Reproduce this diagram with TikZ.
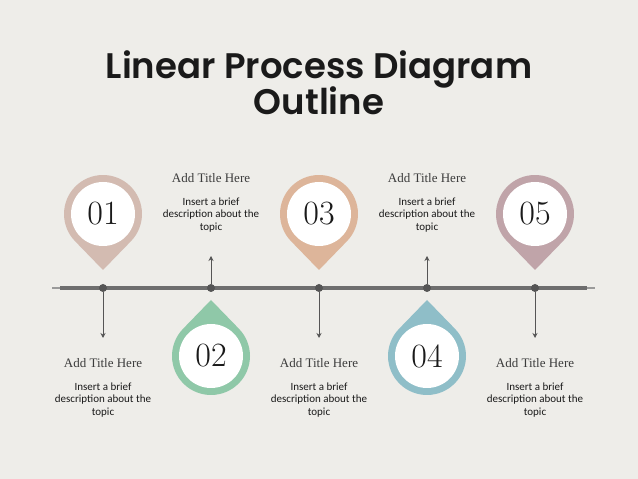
\documentclass[tikz,border=0pt]{standalone}
\usepackage{fontspec}
\setmainfont{Liberation Serif}
\newfontfamily\titlefont{Poppins}[UprightFont=* SemiBold]
\newfontfamily\descfont{Carlito}
\newfontfamily\numfont{Latin Modern Roman}
\usetikzlibrary{arrows.meta,calc}
\definecolor{bg}{RGB}{238,237,233}
\definecolor{cA}{HTML}{D3BBB1}
\definecolor{cB}{HTML}{8FC8A8}
\definecolor{cC}{HTML}{DDB59A}
\definecolor{cD}{HTML}{8FBEC8}
\definecolor{cE}{HTML}{C0A4A9}
\definecolor{linegray}{HTML}{6E6E6E}
\definecolor{dotgray}{HTML}{555555}
\definecolor{ink}{HTML}{1A1A1A}
\tikzset{
  ttl/.style={font=\titlefont\fontsize{35.5}{35.5}\selectfont, text=ink, inner sep=0pt, anchor=base},
  num/.style={font=\numfont\fontsize{34}{34}\selectfont, text=ink, inner sep=0pt},
  itemtitle/.style={font=\fontsize{13}{13}\selectfont, text=ink!85, inner sep=0pt},
  desc/.style={font=\descfont\fontsize{11}{12.8}\selectfont, text=ink, align=center, inner sep=0pt},
  dot/.style={circle, fill=dotgray, minimum size=8pt, inner sep=0pt},
  conn/.style={draw=dotgray, line width=1pt, -{Stealth[length=5pt,width=5pt]}}
}
\begin{document}
\begin{tikzpicture}[x=1pt,y=1pt]
\fill[bg] (0,0) rectangle (638,479);
\useasboundingbox (0,0) rectangle (638,479);
% title
\node[ttl] (t1) at (319,400) {Linear Process Diagram};
\node[ttl] (t2) at (319,364.5) {Outline};
% timeline
\draw[linegray!70, line width=1.2pt] (52,191) -- (595,191);
\draw[linegray, line width=3.2pt] (60,191) -- (587,191);
% pins pointing down (top row)
\foreach \cx/\col/\n in {103/cA/1, 319/cC/3, 535/cE/5}{
  \fill[\col] (\cx,209) -- ($(\cx,265)+(-44:39)$) arc[start angle=-44, end angle=224, radius=39] -- cycle;
  \fill[white] (\cx,265) circle[radius=32];
}
% pins pointing up (bottom row)
\foreach \cx/\col/\n in {211/cB/2, 427/cD/4}{
  \fill[\col] (\cx,179) -- ($(\cx,123)+(136:39)$) arc[start angle=136, end angle=404, radius=39] -- cycle;
  \fill[white] (\cx,123) circle[radius=32];
}
\node[num] (n1) at (103,265) {01};
\node[num] (n2) at (211,123) {02};
\node[num] (n3) at (319,265) {03};
\node[num] (n4) at (427,123) {04};
\node[num] (n5) at (535,265) {05};
% dots
\node[dot] (d1) at (103,191) {};
\node[dot] (d2) at (211,191) {};
\node[dot] (d3) at (319,191) {};
\node[dot] (d4) at (427,191) {};
\node[dot] (d5) at (535,191) {};
% arrow ends
\coordinate (a1) at (103,141);
\coordinate (a2) at (211,223);
\coordinate (a3) at (319,141);
\coordinate (a4) at (427,223);
\coordinate (a5) at (535,141);
\foreach \i in {1,...,5}{ \draw[conn] (d\i) -- (a\i); }
% labels bottom
\foreach \i/\cx in {1/103, 3/319, 5/535}{
  \node[itemtitle] (h\i) at (\cx,116) {Add Title Here};
  \node[desc] (s\i) at (\cx,79) {Insert a brief\\description about the\\topic};
}
% labels top
\foreach \i/\cx in {2/211, 4/427}{
  \node[itemtitle] (h\i) at (\cx,301) {Add Title Here};
  \node[desc] (s\i) at (\cx,264) {Insert a brief\\description about the\\topic};
}
\end{tikzpicture}
\end{document}
